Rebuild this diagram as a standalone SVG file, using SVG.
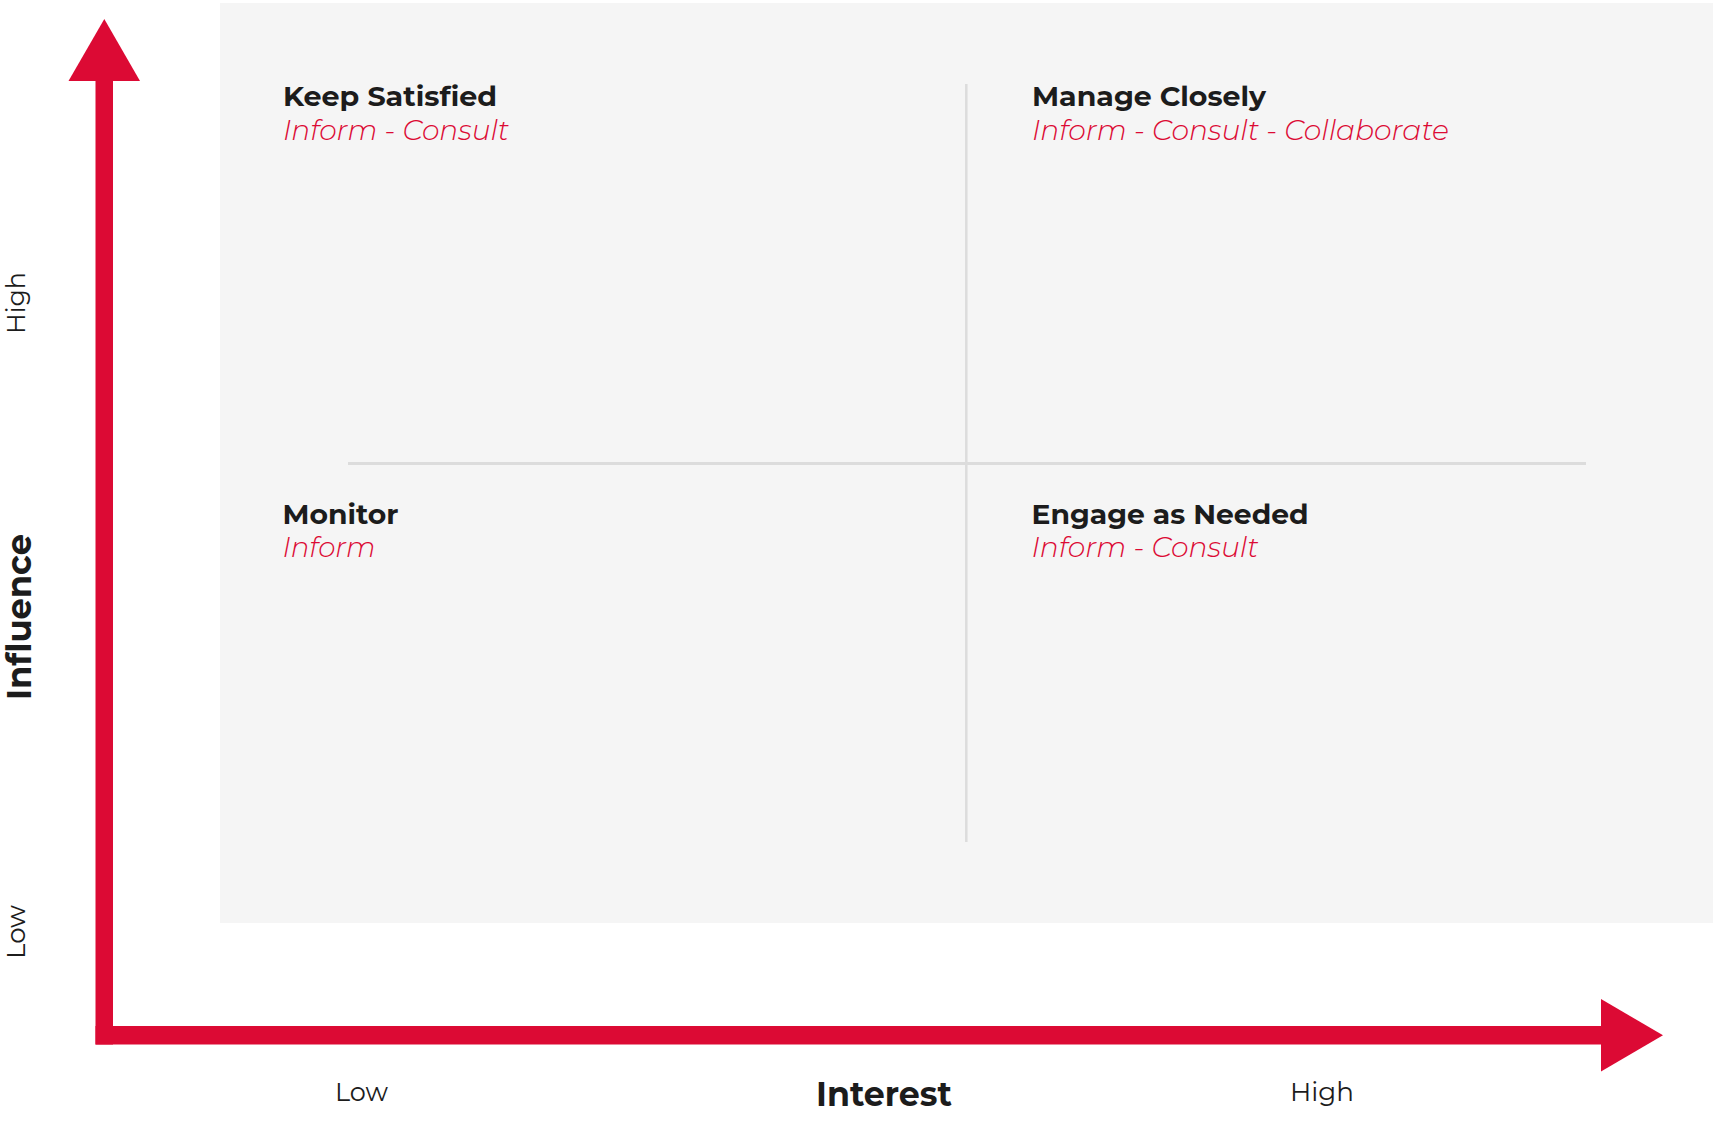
<svg xmlns="http://www.w3.org/2000/svg" width="1716" height="1140" viewBox="0 0 1716 1140">
<style>
  .title { font-family: "Montserrat", "Open Sans", "DejaVu Sans", sans-serif; font-weight: 700; font-size: 28px; fill: #1c1c1c; }
  .sub { font-family: "Montserrat", "Open Sans", "DejaVu Sans", sans-serif; font-weight: 300; font-style: italic; font-size: 28px; fill: #dc0a34; }
  .tick { font-family: "Montserrat", "Open Sans", "DejaVu Sans", sans-serif; font-weight: 400; font-size: 27px; fill: #1c1c1c; }
  .axis { font-family: "Montserrat", "Open Sans", "DejaVu Sans", sans-serif; font-weight: 700; font-size: 34px; fill: #1c1c1c; }
  .red { fill: #dc0a34; }
  .divider { stroke: #dcdcdc; fill: none; }
</style>
<rect width="1716" height="1140" fill="#ffffff"/>
<g id="panel">
  <rect x="220" y="3" width="1493" height="920" fill="#f5f5f5"/>
  <line class="divider" x1="348" y1="463.5" x2="1586" y2="463.5" stroke-width="3"/>
  <line class="divider" x1="966.3" y1="84" x2="966.3" y2="842" stroke-width="2.5"/>
</g>
<g id="connectors">
  <rect class="red" x="95.5" y="80" width="17.5" height="964.5"/>
  <polygon class="red" points="104.3,19 140,81 68.5,81"/>
  <rect class="red" x="95.5" y="1026" width="1506.5" height="18.5"/>
  <polygon class="red" points="1601,999 1663,1035.3 1601,1071.5"/>
</g>
<g id="keep-satisfied">
  <text class="title" x="283" y="106" textLength="214" lengthAdjust="spacingAndGlyphs">Keep Satisfied</text>
  <text class="sub" x="283" y="140" textLength="226" lengthAdjust="spacingAndGlyphs">Inform - Consult</text>
</g>
<g id="manage-closely">
  <text class="title" x="1032" y="106" textLength="234" lengthAdjust="spacingAndGlyphs">Manage Closely</text>
  <text class="sub" x="1032" y="139.5" textLength="417" lengthAdjust="spacingAndGlyphs">Inform - Consult - Collaborate</text>
</g>
<g id="monitor">
  <text class="title" x="282.5" y="524" textLength="116" lengthAdjust="spacingAndGlyphs">Monitor</text>
  <text class="sub" x="282.5" y="557" textLength="93" lengthAdjust="spacingAndGlyphs">Inform</text>
</g>
<g id="engage-as-needed">
  <text class="title" x="1031.5" y="523.5" textLength="277" lengthAdjust="spacingAndGlyphs">Engage as Needed</text>
  <text class="sub" x="1031.5" y="556.5" textLength="227" lengthAdjust="spacingAndGlyphs">Inform - Consult</text>
</g>
<g id="x-axis-labels">
  <text class="tick" x="335" y="1101" textLength="53" lengthAdjust="spacingAndGlyphs">Low</text>
  <text class="axis" x="816" y="1106" textLength="136" lengthAdjust="spacingAndGlyphs">Interest</text>
  <text class="tick" x="1290" y="1101" textLength="64" lengthAdjust="spacingAndGlyphs">High</text>
</g>
<g id="y-axis-labels">
  <text class="tick" transform="translate(25,959) rotate(-90)" x="0" y="0" textLength="54" lengthAdjust="spacingAndGlyphs">Low</text>
  <text class="tick" transform="translate(25,334) rotate(-90)" x="0" y="0" textLength="62" lengthAdjust="spacingAndGlyphs">High</text>
  <text class="axis" transform="translate(31,700) rotate(-90)" x="0" y="0" textLength="166" lengthAdjust="spacingAndGlyphs">Influence</text>
</g>
</svg>
